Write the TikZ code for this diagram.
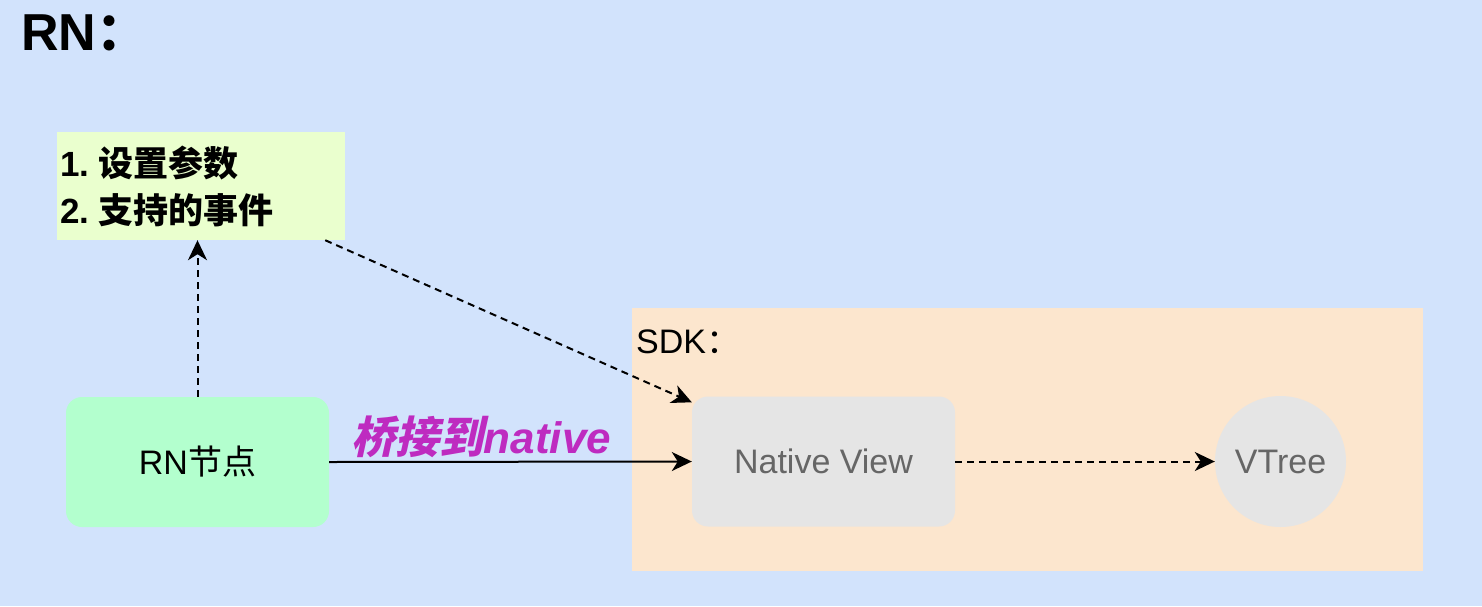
\documentclass[tikz,border=0pt]{standalone}
\usepackage{fontspec}
\setmainfont{Liberation Sans}
\newfontfamily\cjk{Noto Sans CJK SC}
\newfontfamily\cjkslant{Noto Sans CJK SC}[FakeSlant=0.22]
\usetikzlibrary{arrows.meta,positioning}
\definecolor{bgblue}{RGB}{210,227,252}
\definecolor{tipyellow}{RGB}{234,255,206}
\definecolor{rngreen}{RGB}{179,255,206}
\definecolor{sdkpeach}{RGB}{252,230,206}
\definecolor{viewgray}{RGB}{229,229,229}
\definecolor{textgray}{RGB}{102,102,102}
\definecolor{bridgepurple}{RGB}{190,43,192}
\newcommand\bigfont[0]{\fontsize{34}{40}\selectfont}

\begin{document}
\begin{tikzpicture}[x=1pt,y=-1pt,
    box/.style={rounded corners=16pt, minimum width=263pt, minimum height=130pt, inner sep=0pt, font=\bigfont},
    solidarrow/.style={line width=2pt, -{Stealth[length=20pt,width=19pt,inset=6pt]}},
    dasharrow/.style={solidarrow, dash pattern=on 7pt off 5pt}]
    % background and title
    \fill[bgblue] (0,0) rectangle (1482,606);
    \node[anchor=base west, inner sep=0pt, font=\fontsize{52}{60}\selectfont\bfseries] (title) at (21,50) {RN{\cjk ：}};
    % notes box
    \node[fill=tipyellow, minimum width=288pt, minimum height=108pt, text width=282pt, inner sep=3pt,
          align=left, font=\fontsize{35}{47}\selectfont\bfseries] (tips) at (201,186)
          {1.\hspace{9pt}{\cjk 设置参数}\\2.\hspace{9pt}{\cjk 支持的事件}};
    % SDK area
    \node[fill=sdkpeach, minimum width=791pt, minimum height=263pt, inner sep=0pt] (sdk) at (1027.5,439.5) {};
    \node[anchor=base west, inner sep=0pt, font=\bigfont] (sdklabel) at (636,353) {SDK{\cjk ：}};
    % nodes
    \node[box, fill=rngreen] (rn) at (197.5,462) {RN{\cjk 节点}};
    \node[box, fill=viewgray, text=textgray] (nv) at (823.5,461.5) {Native View};
    \node[circle, fill=viewgray, minimum size=131pt, inner sep=0pt, text=textgray, font=\bigfont] (vtree) at (1280.5,461.5) {VTree};
    % connectors
    \draw[solidarrow] (rn.east) -- (nv.west)
        node[pos=0.42, anchor=base, yshift=8pt, text=bridgepurple, font=\fontsize{44}{50}\selectfont\bfseries\itshape]
        (bridge) {{\cjkslant\bfseries 桥接到}native};
    \draw[dasharrow] (rn.north) -- (rn.north |- tips.south);
    \draw[dasharrow] ([xshift=-20pt]tips.south east) -- ([yshift=-6pt]nv.north west);
    \draw[dasharrow] (nv.east) -- (vtree.west);
\end{tikzpicture}
\end{document}
